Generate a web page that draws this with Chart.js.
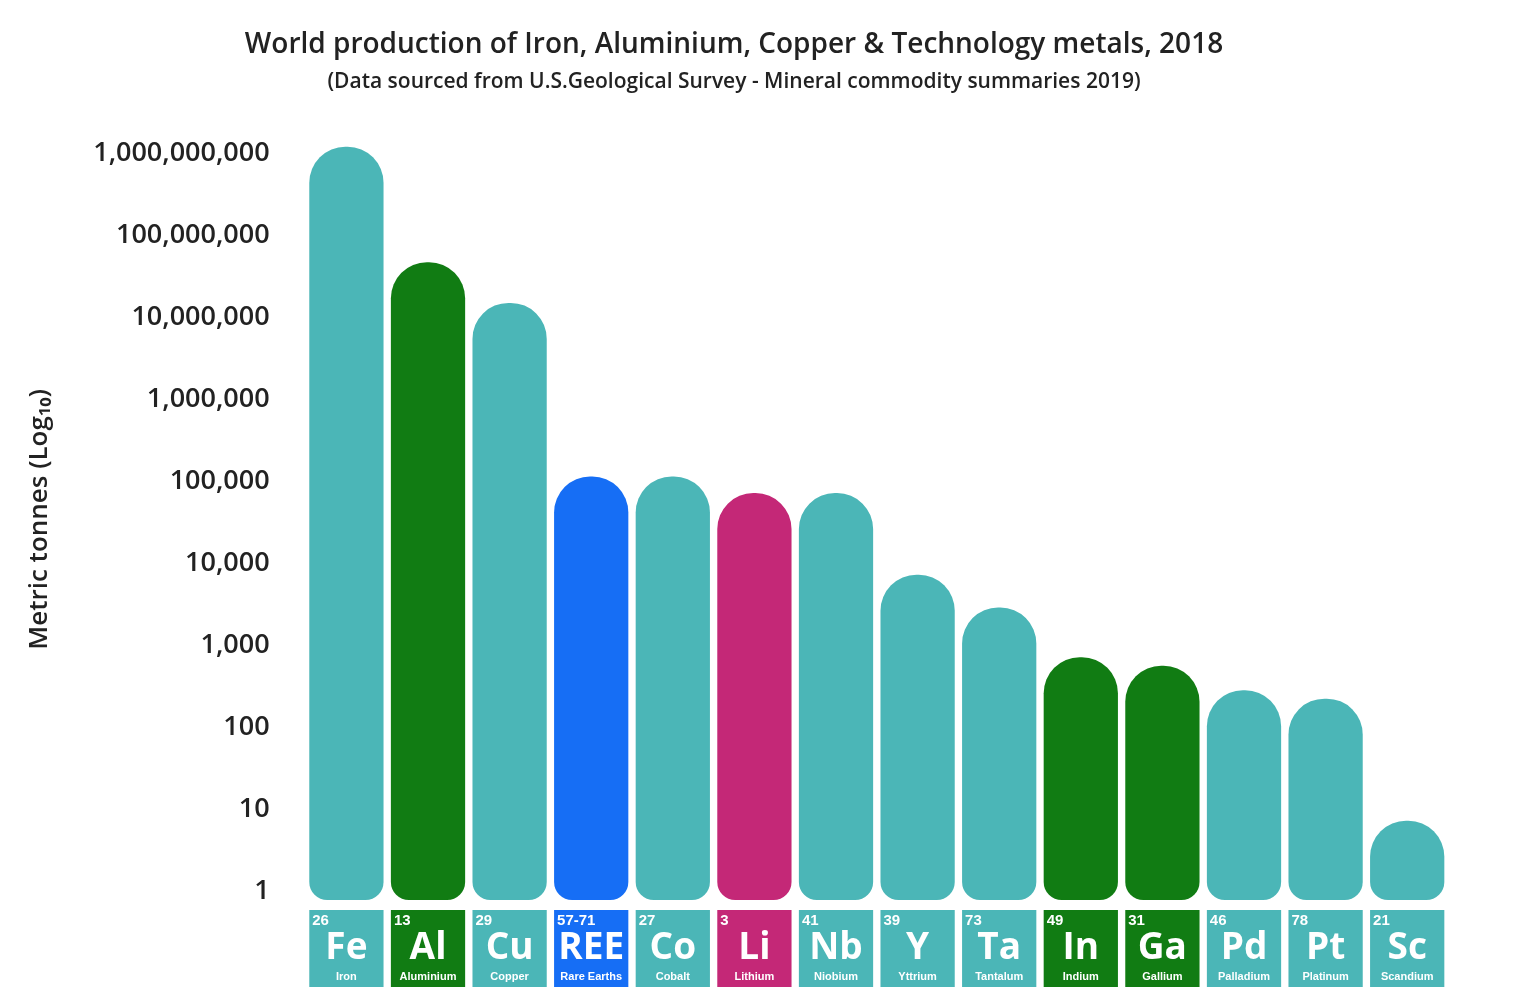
<!DOCTYPE html>
<html>
<head>
<meta charset="utf-8">
<script src="https://cdn.jsdelivr.net/npm/chart.js@4"></script>
<style>
  body { margin: 0; background: #fff; }
</style>
</head>
<body>
<canvas id="chart" width="1536" height="995"></canvas>
<script>
const symbols = ['Fe', 'Al', 'Cu', 'REE', 'Co', 'Li', 'Nb', 'Y', 'Ta', 'In', 'Ga', 'Pd', 'Pt', 'Sc'];
const names = ['Iron', 'Aluminium', 'Copper', 'Rare Earths', 'Cobalt', 'Lithium', 'Niobium', 'Yttrium', 'Tantalum', 'Indium', 'Gallium', 'Palladium', 'Platinum', 'Scandium'];
const numbers = ['26', '13', '29', '57-71', '27', '3', '41', '39', '73', '49', '31', '46', '78', '21'];
const production = [1200000000, 47000000, 15000000, 115000, 115000, 72000, 72000, 7300, 2900, 720, 565, 285, 225, 7.3];
const colors = ['#4bb6b7', '#117c13', '#4bb6b7', '#166ef5', '#4bb6b7', '#c42877', '#4bb6b7', '#4bb6b7', '#4bb6b7', '#117c13', '#117c13', '#4bb6b7', '#4bb6b7', '#4bb6b7'];
const tickValues = [1, 10, 100, 1000, 10000, 100000, 1000000, 10000000, 100000000, 1000000000];

const tilePlugin = {
    id: 'tiles',
    afterDraw(chart) {
        const ctx = chart.ctx;
        const meta = chart.getDatasetMeta(0);
        const top = chart.chartArea.bottom + 10;
        const h = 77;
        meta.data.forEach((bar, i) => {
            const w = bar.width;
            const x0 = bar.x - w / 2;
            ctx.save();
            ctx.fillStyle = colors[i];
            ctx.fillRect(x0, top, w, h);
            ctx.fillStyle = '#fff';
            ctx.textBaseline = 'top';
            ctx.textAlign = 'left';
            ctx.font = 'bold 15px "Liberation Sans", Arial';
            ctx.fillText(numbers[i], x0 + 3, top + 3);
            ctx.textAlign = 'center';
            ctx.textBaseline = 'middle';
            ctx.font = 'bold 37px "Open Sans", sans-serif';
            ctx.fillText(symbols[i], bar.x, top + 38);
            ctx.font = 'bold 11px "Liberation Sans", Arial';
            ctx.fillText(names[i], bar.x, top + 67);
            ctx.restore();
        });
    }
};

new Chart(document.getElementById('chart'), {
    type: 'bar',
    data: {
        labels: symbols,
        datasets: [{
            data: production,
            backgroundColor: colors,
            borderRadius: { topLeft: 36, topRight: 36, bottomLeft: 18, bottomRight: 18 },
            borderSkipped: false,
            categoryPercentage: 1,
            barPercentage: 0.91
        }]
    },
    options: {
        responsive: false,
        animation: false,
        devicePixelRatio: 1,
        layout: { padding: { left: 20, right: 88, top: 0, bottom: 95 } },
        plugins: {
            legend: { display: false },
            tooltip: { enabled: false },
            title: {
                display: true,
                text: 'World production of Iron, Aluminium, Copper & Technology metals, 2018',
                color: '#222',
                font: { family: 'Open Sans', size: 28, weight: '600' },
                padding: { top: 28, bottom: 8 }
            },
            subtitle: {
                display: true,
                text: '(Data sourced from U.S.Geological Survey - Mineral commodity summaries 2019)',
                color: '#222',
                font: { family: 'Open Sans', size: 21, weight: '600' },
                padding: { bottom: 44 }
            }
        },
        scales: {
            x: { display: false },
            y: {
                type: 'logarithmic',
                min: 0.79,
                max: 1500000000,
                grid: { display: false },
                border: { display: false },
                afterBuildTicks(axis) {
                    axis.ticks = tickValues.map(v => ({ value: v }));
                },
                ticks: {
                    color: '#222',
                    padding: 28,
                    font: { family: 'Open Sans', size: 27, weight: '600' },
                    callback: v => v.toLocaleString('en-US')
                },
                title: {
                    display: true,
                    text: 'Metric tonnes (Log₁₀)',
                    color: '#222',
                    font: { family: 'Open Sans', size: 26, weight: '600' },
                    padding: { bottom: 10 }
                }
            }
        }
    },
    plugins: [tilePlugin]
});
</script>
</body>
</html>
